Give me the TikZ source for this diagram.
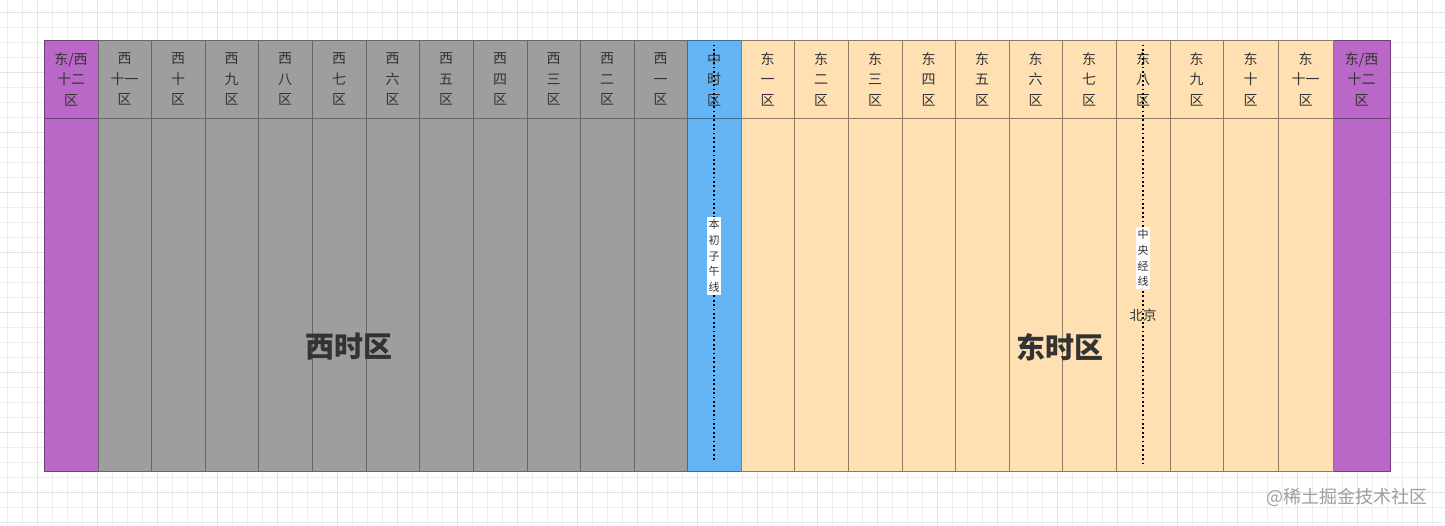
\documentclass[tikz,border=0pt]{standalone}
\usepackage{fontspec}
\setmainfont{Noto Sans CJK SC}
\definecolor{cpurple}{HTML}{BA68C8}
\definecolor{cgray}{HTML}{9E9E9E}
\definecolor{cblue}{HTML}{64B5F6}
\definecolor{corange}{HTML}{FFE0B2}
\definecolor{gridc}{HTML}{EDEDED}
\definecolor{gridd}{HTML}{E2E2E2}
\definecolor{txt}{HTML}{333333}
\begin{document}
\begin{tikzpicture}[x=1pt,y=-1pt,
  hcell/.style={minimum height=78pt,inner sep=0pt,align=center,
    font=\fontsize{14}{20.5}\selectfont,text=txt,line width=0.8pt},
  bcell/.style={minimum height=353pt,inner sep=0pt,line width=0.8pt},
  cp/.style={fill=cpurple,draw=cpurple!60!black},
  cg/.style={fill=cgray,draw=cgray!65!black},
  cb/.style={fill=cblue,draw=cblue!60!black},
  co/.style={fill=corange,draw=corange!55!black},
  meridian/.style={line width=1.6pt,dash pattern=on 1.8pt off 2.6pt,black},
  mlabel/.style={fill=white,inner xsep=1.5pt,inner ysep=2pt,align=center,
    font=\fontsize{11}{15.8}\selectfont,text=txt},
  biglabel/.style={font=\fontsize{29}{31}\selectfont\bfseries,text=txt}
]
\useasboundingbox (0,0) rectangle (1445,525);
\fill[white] (0,0) rectangle (1445,525);
% background grid
\foreach \x in {7,22,...,1444} \draw[gridc,line width=0.6pt] (\x,0) -- (\x,525);
\foreach \y in {12,27,...,524} \draw[gridc,line width=0.6pt] (0,\y) -- (1445,\y);
\foreach \x in {37,97,...,1444} \draw[gridd,line width=0.6pt] (\x,0) -- (\x,525);
\foreach \y in {12,72,...,524} \draw[gridd,line width=0.6pt] (0,\y) -- (1445,\y);
% outer purple columns
\node[hcell,cp,minimum width=54pt] (h1) at (71,79) {东/西\\十二\\区};
\node[bcell,cp,minimum width=54pt] (b1) at (71,294.5) {};
\node[hcell,cp,minimum width=57pt] (h25) at (1361.5,79) {东/西\\十二\\区};
\node[bcell,cp,minimum width=57pt] (b25) at (1361.5,294.5) {};
% zone columns
\foreach \k/\l/\r/\st/\a/\b in {
  2/98/151/cg/西/十一, 3/151/205/cg/西/十, 4/205/258/cg/西/九, 5/258/312/cg/西/八,
  6/312/366/cg/西/七, 7/366/419/cg/西/六, 8/419/473/cg/西/五, 9/473/527/cg/西/四,
  10/527/580/cg/西/三, 11/580/634/cg/西/二, 12/634/687/cg/西/一,
  13/687/741/cb/中/时,
  14/741/794/co/东/一, 15/794/848/co/东/二, 16/848/902/co/东/三, 17/902/955/co/东/四,
  18/955/1009/co/东/五, 19/1009/1062/co/东/六, 20/1062/1116/co/东/七, 21/1116/1170/co/东/八,
  22/1170/1223/co/东/九, 23/1223/1278/co/东/十, 24/1278/1333/co/东/十一} {
  \pgfmathsetmacro\w{\r-\l}
  \pgfmathsetmacro\c{(\l+\r)/2}
  \node[hcell,\st,minimum width=\w pt] (h\k) at (\c,79) {\a\\\b\\区};
  \node[bcell,\st,minimum width=\w pt] (b\k) at (\c,294.5) {};
}
% meridians
\coordinate (pmtop) at ([yshift=-5pt]h13.north);
\coordinate (pmbot) at ([yshift=9pt]b13.south);
\coordinate (cmtop) at ([yshift=-5pt]h21.north);
\coordinate (cmbot) at ([yshift=6pt]b21.south);
\draw[meridian] (pmtop) -- (pmbot);
\draw[meridian] (cmtop) -- (cmbot);
\node[mlabel] (pml) at (h13.north |- 0,256) {本\\初\\子\\午\\线};
\node[mlabel] (cml) at (h21.north |- 0,258) {中\\央\\经\\线};
\node[font=\fontsize{13.5}{15}\selectfont,text=txt] (bj) at (h21.north |- 0,315) {北京};
% big labels
\node[biglabel] (west) at (349,347) {西时区};
\node[biglabel] (east) at (1060,347) {东时区};
% watermark
\node[anchor=east,font=\fontsize{18}{20}\selectfont,text=black!38,inner sep=0pt] (wm) at (1428,497) {@稀土掘金技术社区};
\end{tikzpicture}
\end{document}
